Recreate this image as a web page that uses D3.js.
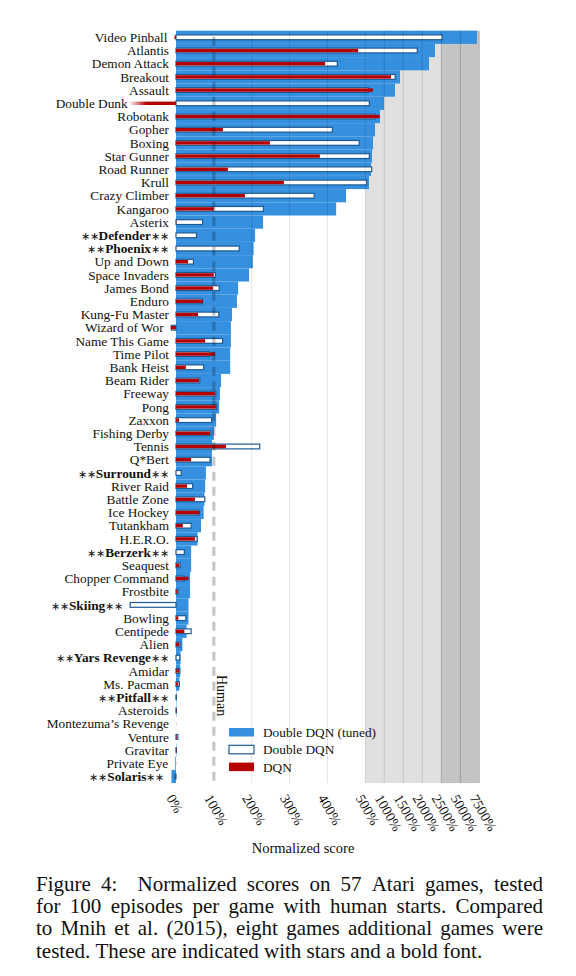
<!DOCTYPE html>
<html>
<head>
<meta charset="utf-8">
<script src="https://cdn.jsdelivr.net/npm/d3@7"></script>
<style>
  body { margin: 0; background: #fff; }
  svg text { font-family: "Liberation Serif", "Times New Roman", serif; fill: #111; }
</style>
</head>
<body>
<svg id="chart"></svg>
<script>
// Games, top to bottom (sorted by tuned Double DQN score)
const games = [
  "Video Pinball", "Atlantis", "Demon Attack", "Breakout", "Assault", "Double Dunk",
  "Robotank", "Gopher", "Boxing", "Star Gunner", "Road Runner", "Krull",
  "Crazy Climber", "Kangaroo", "Asterix", "Defender", "Phoenix", "Up and Down",
  "Space Invaders", "James Bond", "Enduro", "Kung-Fu Master", "Wizard of Wor",
  "Name This Game", "Time Pilot", "Bank Heist", "Beam Rider", "Freeway", "Pong",
  "Zaxxon", "Fishing Derby", "Tennis", "Q*Bert", "Surround", "River Raid",
  "Battle Zone", "Ice Hockey", "Tutankham", "H.E.R.O.", "Berzerk", "Seaquest",
  "Chopper Command", "Frostbite", "Skiing", "Bowling", "Centipede", "Alien",
  "Yars Revenge", "Amidar", "Ms. Pacman", "Pitfall", "Asteroids",
  "Montezuma\u2019s Revenge", "Venture", "Gravitar", "Private Eye", "Solaris"
];

// games that were not in Mnih et al. (2015)
const newGames = ["Defender", "Phoenix", "Surround", "Berzerk", "Skiing",
  "Yars Revenge", "Pitfall", "Solaris"];

// normalized scores in %
const tunedScores = [
  7200, 2334, 2176, 1413, 1281, 992,
  887, 755, 703, 676, 650, 597,
  449, 423, 230, 209, 205, 203,
  193, 164, 161, 148, 145,
  145, 143, 143, 119, 116, 114,
  106, 100, 95, 95, 79, 77,
  75, 73, 66, 57, 40, 40,
  37, 37, 33, 33, 28, 17,
  12, 11, 9, 1, 1,
  0, 0, 1, -2, -12
];
const ddqnScores = [
  2630, 1868, 426, 1287, 589, 605,
  763, 413, 484, 605, 668, 537,
  365, 231, 70, 54, 167, 46,
  104, 114, 70, 113, -12,
  123, 89, 73, 63, 105, 107,
  94, 92, 221, 90, 14, 44,
  76, 62, 40, 56, 22, 11,
  22, 6, -121, 26, 40, 11,
  10, 10, 9, 1, 1,
  0, 5, 1, 0, -3
];
// null: game not evaluated for DQN
const dqnScores = [
  -4, 481, 394, 1176, 703, -125,
  880, 124, 248, 380, 137, 285,
  182, 100, 1, null, null, 32,
  100, 98, 71, 58, -14,
  77, 103, 26, 61, 103, 106,
  8, 90, 132, 40, null, 29,
  50, 62, 18, 50, null, 9,
  33, 4, null, 6, 22, 9,
  null, 8, 6, null, 1,
  0.5, 2, 1, 0.5, null
];

const seriesNames = ["Double DQN (tuned)", "Double DQN", "DQN"];
const tickValues = [0, 100, 200, 300, 400, 500, 1000, 1500, 2000, 2500, 5000, 7500];

const captionLines = [
  "Figure 4:  Normalized scores on 57 Atari games, tested",
  "for 100 episodes per game with human starts. Compared",
  "to Mnih et al. (2015), eight games additional games were",
  "tested. These are indicated with stars and a bold font."
];

// Dimensions
const width = 576;
const height = 976;
const plot = { top: 30.7, bottom: 783.1 };

const blue = "#3590df";
const red = "#b40000";
const outline = "#1d5a94";

const svg = d3.select("#chart")
    .attr("width", width)
    .attr("height", height);

// broken x axis: linear up to 500%, then compressed steps
const x = d3.scaleLinear()
    .domain([0, 500, 1000, 1500, 2000, 2500, 5000, 7500])
    .range([176, 365.3, 384.3, 403.3, 422.3, 441.3, 460.3, 479.3]);

const y = d3.scaleBand()
    .domain(games)
    .range([plot.top, plot.bottom]);

const rows = games.map((g, i) => ({
  game: g,
  tuned: tunedScores[i],
  ddqn: ddqnScores[i],
  dqn: dqnScores[i]
}));

// Gray background for the compressed part of the axis
svg.append("rect")
    .attr("x", x(500)).attr("y", plot.top)
    .attr("width", x(2500) - x(500)).attr("height", plot.bottom - plot.top)
    .attr("fill", "#e0e0e0");
svg.append("rect")
    .attr("x", x(2500)).attr("y", plot.top)
    .attr("width", x(7500) - x(2500)).attr("height", plot.bottom - plot.top)
    .attr("fill", "#c4c4c4");

// fade for bars that run off the left side
const defs = svg.append("defs");

function barX(v) { return Math.min(x(0), x(v)); }
function barW(v) { return Math.abs(x(v) - x(0)); }

// Double DQN (tuned): full-height blue bars
svg.append("g").selectAll("rect")
    .data(rows)
    .join("rect")
    .attr("x", d => barX(d.tuned))
    .attr("y", d => y(d.game))
    .attr("width", d => barW(d.tuned))
    .attr("height", y.bandwidth())
    .attr("fill", blue);

// Double DQN: white bars with outline
svg.append("g").selectAll("rect")
    .data(rows)
    .join("rect")
    .attr("x", d => barX(d.ddqn))
    .attr("y", d => y(d.game) + y.bandwidth() / 2 - 2.4)
    .attr("width", d => barW(d.ddqn))
    .attr("height", 4.8)
    .attr("fill", "#fff")
    .attr("stroke", outline)
    .attr("stroke-width", 1.2);

// DQN: thin red bars
const dqnRows = rows.filter(d => d.dqn !== null);
dqnRows.filter(d => d.dqn < -100).forEach(d => {
  const g = defs.append("linearGradient")
      .attr("id", "fade" + games.indexOf(d.game))
      .attr("gradientUnits", "userSpaceOnUse")
      .attr("x1", x(d.dqn)).attr("x2", x(d.dqn) + 18)
      .attr("y1", 0).attr("y2", 0);
  g.append("stop").attr("offset", 0).attr("stop-color", red).attr("stop-opacity", 0);
  g.append("stop").attr("offset", 1).attr("stop-color", red).attr("stop-opacity", 1);
});

svg.append("g").selectAll("rect")
    .data(dqnRows)
    .join("rect")
    .attr("x", d => barX(d.dqn))
    .attr("y", d => y(d.game) + y.bandwidth() / 2 - 1.7)
    .attr("width", d => barW(d.dqn))
    .attr("height", 3.4)
    .attr("fill", d => d.dqn < -100 ? `url(#fade${games.indexOf(d.game)})` : red);

// Grid lines (drawn over the bars, semi transparent)
svg.append("g").selectAll("line")
    .data(tickValues.filter(v => v > 100))
    .join("line")
    .attr("x1", d => x(d)).attr("x2", d => x(d))
    .attr("y1", plot.top).attr("y2", plot.bottom)
    .attr("stroke", "#000")
    .attr("stroke-opacity", d => d >= 2500 ? 0.2 : (d >= 500 ? 0.12 : 0.11))
    .attr("stroke-width", 1);

// Human level line at 100%
svg.append("line")
    .attr("x1", x(100)).attr("x2", x(100))
    .attr("y1", plot.top).attr("y2", plot.bottom)
    .attr("stroke", "#000")
    .attr("stroke-opacity", 0.22)
    .attr("stroke-width", 3.2)
    .attr("stroke-dasharray", "9,6")
    .attr("stroke-dashoffset", 9);

svg.append("text")
    .attr("transform", `translate(${x(100) + 3},675) rotate(90)`)
    .attr("font-size", 14)
    .text("Human");

// Game labels, placed left of the leftmost bar
const labels = svg.append("g").selectAll("text")
    .data(rows)
    .join("text")
    .attr("x", d => {
      const vals = [d.tuned, d.ddqn, d.dqn].filter(v => v !== null);
      const left = Math.min(x(0), ...vals.map(v => x(v)));
      return d.dqn !== null && d.dqn < -100 ? left - 1 : left - 7;
    })
    .attr("y", d => y(d.game) + y.bandwidth() / 2)
    .attr("dy", "0.35em")
    .attr("text-anchor", "end")
    .attr("font-size", 13.3);

labels.each(function (d) {
  const t = d3.select(this);
  if (newGames.includes(d.game)) {
    t.append("tspan").attr("font-size", 11).text("\u2217\u2217");
    t.append("tspan").attr("font-weight", "bold").text(d.game);
    t.append("tspan").attr("font-size", 11).text("\u2217\u2217");
  } else {
    t.text(d.game);
  }
});

// X tick labels, rotated
svg.append("g").selectAll("text")
    .data(tickValues)
    .join("text")
    .attr("transform", d => `translate(${x(d) - 10},798) rotate(60)`)
    .attr("font-size", 14)
    .text(d => d + "%");

svg.append("text")
    .attr("x", 303).attr("y", 853)
    .attr("text-anchor", "middle")
    .attr("font-size", 14.5)
    .text("Normalized score");

// Legend
const legend = svg.append("g").selectAll("g")
    .data(seriesNames)
    .join("g")
    .attr("transform", (d, i) => `translate(229,${728 + i * 17.3})`);

legend.append("rect")
    .attr("width", 25).attr("height", 8.5)
    .attr("fill", (d, i) => i === 0 ? blue : (i === 1 ? "#fff" : red))
    .attr("stroke", (d, i) => i === 1 ? outline : "none")
    .attr("stroke-width", 1.2);

legend.append("text")
    .attr("x", 34).attr("y", 4.25)
    .attr("dy", "0.35em")
    .attr("font-size", 13.3)
    .text(d => d);

// Caption, justified between the margins
const capLeft = 36, capRight = 543;
captionLines.forEach((line, li) => {
  const words = line.split(/ +/);
  const base = 891 + li * 22.2;
  const nodes = words.map(w => svg.append("text")
      .attr("y", base)
      .attr("font-size", 21)
      .text(w));
  const widths = nodes.map(n => n.node().getComputedTextLength());
  const total = d3.sum(widths);
  // "Figure 4:" is followed by a wider gap
  const weights = words.slice(0, -1).map((w, i) => (li === 0 && i === 1) ? 2 : 1);
  const last = li === captionLines.length - 1;
  const unit = last ? 5.25 : (capRight - capLeft - total) / d3.sum(weights);
  let cx = capLeft;
  nodes.forEach((n, i) => {
    n.attr("x", cx);
    cx += widths[i] + (i < weights.length ? weights[i] * unit : 0);
  });
});
</script>
</body>
</html>
